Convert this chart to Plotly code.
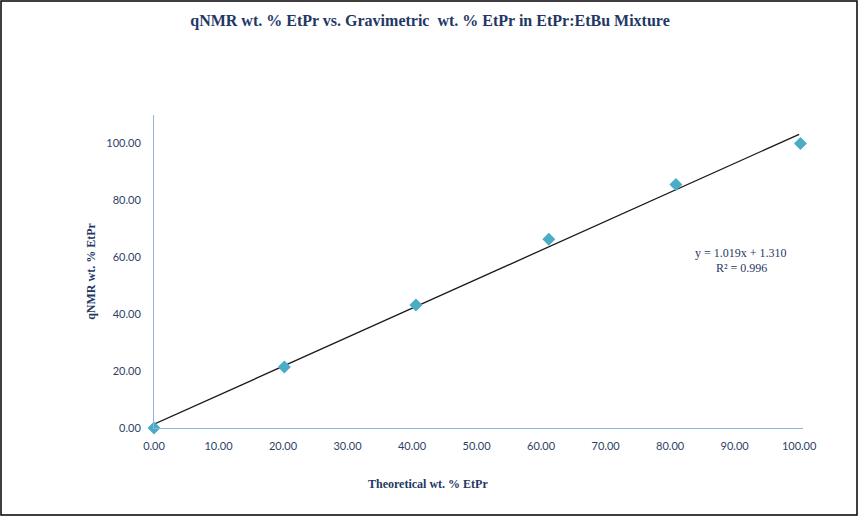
import plotly.graph_objects as go

# Data
theoretical = [0.0, 20.2, 40.6, 61.2, 80.9, 100.2]
qnmr = [0.0, 21.4, 43.2, 66.3, 85.6, 100.0]
slope = 1.019
intercept = 1.310
fit_x = [0.0, 100.0]
fit_y = [slope * v + intercept for v in fit_x]
x_ticks = [0, 10, 20, 30, 40, 50, 60, 70, 80, 90, 100]
y_ticks = [0, 20, 40, 60, 80, 100]

W, H = 859, 517
ml, mr, mt, mb = 154, 56, 115, 89
pw = W - ml - mr
ph = H - mt - mb


def px(xp):
    return (xp - ml) / pw


def py(yp):
    return (H - mb - yp) / ph


fig = go.Figure()
fig.add_trace(go.Scatter(x=fit_x, y=fit_y, mode="lines",
                         line=dict(color="#1a1a1a", width=1.3), showlegend=False, cliponaxis=False))
fig.add_trace(go.Scatter(x=theoretical, y=qnmr, mode="markers",
                         marker=dict(symbol="diamond", size=10, color="#4BACC6"),
                         showlegend=False, cliponaxis=False))

axcol = "#8DB4E2"
tickfont = dict(family="Lato, Liberation Sans", size=11, color="#2E3F66")
titlefont = dict(family="Liberation Serif", size=12, color="#1F3864")
fig.update_xaxes(range=[0, 100.6], tickvals=x_ticks, ticktext=[f"{v:.2f}" for v in x_ticks],
                 showgrid=False, zeroline=False, showline=True, linecolor=axcol, linewidth=1,
                 ticks="", tickfont=tickfont, ticklabelstandoff=8)
fig.update_yaxes(range=[0, 110], tickvals=y_ticks, ticktext=[f"{v:.2f}" for v in y_ticks],
                 showgrid=False, zeroline=False, showline=True, linecolor=axcol, linewidth=1,
                 ticks="", tickfont=tickfont, ticklabelstandoff=10,
                 title=dict(text="<b>qNMR wt. % EtPr</b>", standoff=8, font=titlefont))

fig.add_shape(type="rect", xref="paper", yref="paper",
              x0=px(1), x1=px(W - 2), y0=py(H - 2), y1=py(1),
              line=dict(color="black", width=1.5))

fig.add_annotation(xref="paper", yref="paper", x=px(428), y=py(484),
                   text="<b>Theoretical wt. % EtPr</b>", showarrow=False,
                   xanchor="center", yanchor="middle", font=titlefont)
fig.add_annotation(xref="paper", yref="paper", x=px(741), y=py(253),
                   text="y = 1.019x + 1.310", showarrow=False,
                   xanchor="center", yanchor="middle",
                   font=dict(family="Liberation Serif", size=12, color="#1F3864"))
fig.add_annotation(xref="paper", yref="paper", x=px(741), y=py(268),
                   text="R² = 0.996", showarrow=False,
                   xanchor="center", yanchor="middle",
                   font=dict(family="Liberation Serif", size=12, color="#1F3864"))

fig.update_layout(
    width=W, height=H,
    margin=dict(l=ml, r=mr, t=mt, b=mb),
    paper_bgcolor="white", plot_bgcolor="white",
    title=dict(text="<b>qNMR wt. % EtPr vs. Gravimetric  wt. % EtPr in EtPr:EtBu Mixture</b>",
               x=430 / W, xanchor="center", y=1 - 20 / H, yanchor="middle",
               font=dict(family="Liberation Serif", size=16, color="#1F3864")),
)
fig.write_html("out.html")
